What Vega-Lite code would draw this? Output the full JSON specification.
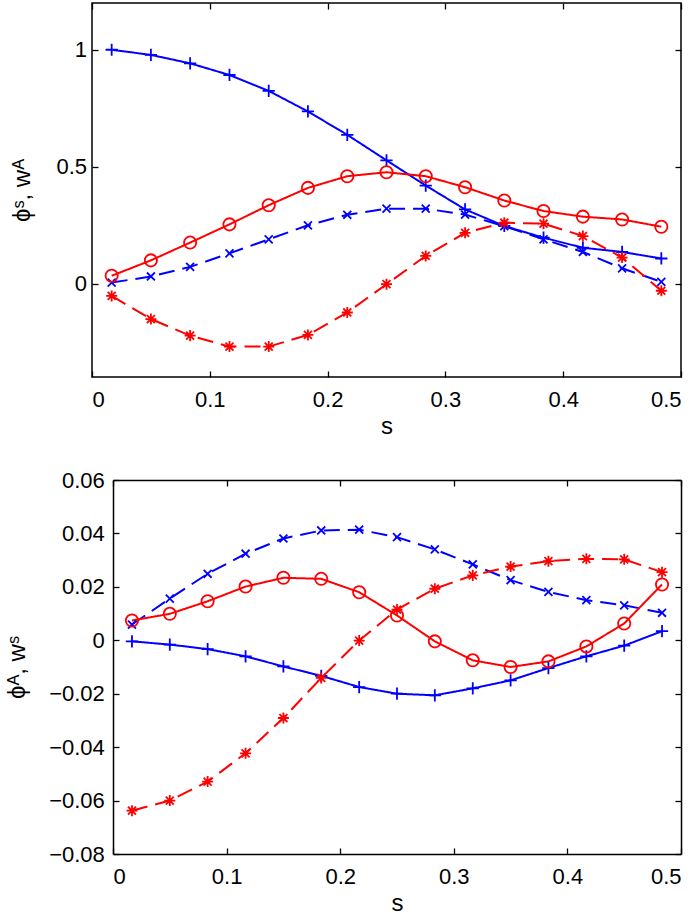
{
  "$schema": "https://vega.github.io/schema/vega-lite/v6.json",
  "padding": {"left": 5, "top": 1, "right": 0, "bottom": 0},
  "config": {
    "view": {"stroke": "black", "strokeWidth": 1.5},
    "font": "Liberation Sans",
    "axis": {
      "grid": false, "domain": false, "domainColor": "black", "domainWidth": 1.5,
      "tickColor": "black", "tickSize": -6, "tickWidth": 1.3,
      "labelFontSize": 22, "labelColor": "black", "labelFont": "Liberation Sans",
      "titleFontSize": 24, "titleFontWeight": "normal", "titleColor": "black", "titleFont": "Liberation Sans"
    }
  },
  "datasets": {
    "upper": [
      {"s": 0.0167, "k": "A", "v": 1.0}, {"s": 0.05, "k": "A", "v": 0.978}, {"s": 0.0833, "k": "A", "v": 0.942},
      {"s": 0.1167, "k": "A", "v": 0.892}, {"s": 0.15, "k": "A", "v": 0.824}, {"s": 0.1833, "k": "A", "v": 0.736},
      {"s": 0.2167, "k": "A", "v": 0.636}, {"s": 0.25, "k": "A", "v": 0.527}, {"s": 0.2833, "k": "A", "v": 0.419},
      {"s": 0.3167, "k": "A", "v": 0.317}, {"s": 0.35, "k": "A", "v": 0.246}, {"s": 0.3833, "k": "A", "v": 0.196},
      {"s": 0.4167, "k": "A", "v": 0.153}, {"s": 0.45, "k": "A", "v": 0.135}, {"s": 0.4833, "k": "A", "v": 0.107},
      {"s": 0.0167, "k": "B", "v": 0.004}, {"s": 0.05, "k": "B", "v": 0.03}, {"s": 0.0833, "k": "B", "v": 0.071},
      {"s": 0.1167, "k": "B", "v": 0.129}, {"s": 0.15, "k": "B", "v": 0.189}, {"s": 0.1833, "k": "B", "v": 0.249},
      {"s": 0.2167, "k": "B", "v": 0.294}, {"s": 0.25, "k": "B", "v": 0.32}, {"s": 0.2833, "k": "B", "v": 0.32},
      {"s": 0.3167, "k": "B", "v": 0.295}, {"s": 0.35, "k": "B", "v": 0.245}, {"s": 0.3833, "k": "B", "v": 0.189},
      {"s": 0.4167, "k": "B", "v": 0.135}, {"s": 0.45, "k": "B", "v": 0.065}, {"s": 0.4833, "k": "B", "v": 0.007},
      {"s": 0.0167, "k": "C", "v": 0.033}, {"s": 0.05, "k": "C", "v": 0.099}, {"s": 0.0833, "k": "C", "v": 0.175},
      {"s": 0.1167, "k": "C", "v": 0.253}, {"s": 0.15, "k": "C", "v": 0.335}, {"s": 0.1833, "k": "C", "v": 0.409},
      {"s": 0.2167, "k": "C", "v": 0.459}, {"s": 0.25, "k": "C", "v": 0.476}, {"s": 0.2833, "k": "C", "v": 0.459},
      {"s": 0.3167, "k": "C", "v": 0.412}, {"s": 0.35, "k": "C", "v": 0.355}, {"s": 0.3833, "k": "C", "v": 0.31},
      {"s": 0.4167, "k": "C", "v": 0.286}, {"s": 0.45, "k": "C", "v": 0.274}, {"s": 0.4833, "k": "C", "v": 0.243},
      {"s": 0.0167, "k": "D", "v": -0.053}, {"s": 0.05, "k": "D", "v": -0.152}, {"s": 0.0833, "k": "D", "v": -0.223},
      {"s": 0.1167, "k": "D", "v": -0.27}, {"s": 0.15, "k": "D", "v": -0.27}, {"s": 0.1833, "k": "D", "v": -0.22},
      {"s": 0.2167, "k": "D", "v": -0.124}, {"s": 0.25, "k": "D", "v": -0.003}, {"s": 0.2833, "k": "D", "v": 0.118},
      {"s": 0.3167, "k": "D", "v": 0.217}, {"s": 0.35, "k": "D", "v": 0.26}, {"s": 0.3833, "k": "D", "v": 0.256},
      {"s": 0.4167, "k": "D", "v": 0.203}, {"s": 0.45, "k": "D", "v": 0.111}, {"s": 0.4833, "k": "D", "v": -0.031}
    ],
    "lower": [
      {"s": 0.0167, "k": "A", "v": -0.0004}, {"s": 0.05, "k": "A", "v": -0.0016}, {"s": 0.0833, "k": "A", "v": -0.0033},
      {"s": 0.1167, "k": "A", "v": -0.006}, {"s": 0.15, "k": "A", "v": -0.0098}, {"s": 0.1833, "k": "A", "v": -0.0133},
      {"s": 0.2167, "k": "A", "v": -0.0175}, {"s": 0.25, "k": "A", "v": -0.02}, {"s": 0.2833, "k": "A", "v": -0.0206},
      {"s": 0.3167, "k": "A", "v": -0.018}, {"s": 0.35, "k": "A", "v": -0.015}, {"s": 0.3833, "k": "A", "v": -0.0104},
      {"s": 0.4167, "k": "A", "v": -0.006}, {"s": 0.45, "k": "A", "v": -0.002}, {"s": 0.4833, "k": "A", "v": 0.0034},
      {"s": 0.0167, "k": "B", "v": 0.0059}, {"s": 0.05, "k": "B", "v": 0.0156}, {"s": 0.0833, "k": "B", "v": 0.0249},
      {"s": 0.1167, "k": "B", "v": 0.0324}, {"s": 0.15, "k": "B", "v": 0.0381}, {"s": 0.1833, "k": "B", "v": 0.0411},
      {"s": 0.2167, "k": "B", "v": 0.0414}, {"s": 0.25, "k": "B", "v": 0.0386}, {"s": 0.2833, "k": "B", "v": 0.034},
      {"s": 0.3167, "k": "B", "v": 0.0284}, {"s": 0.35, "k": "B", "v": 0.0225}, {"s": 0.3833, "k": "B", "v": 0.0181},
      {"s": 0.4167, "k": "B", "v": 0.015}, {"s": 0.45, "k": "B", "v": 0.0131}, {"s": 0.4833, "k": "B", "v": 0.0103},
      {"s": 0.0167, "k": "C", "v": 0.0074}, {"s": 0.05, "k": "C", "v": 0.0099}, {"s": 0.0833, "k": "C", "v": 0.0146},
      {"s": 0.1167, "k": "C", "v": 0.0201}, {"s": 0.15, "k": "C", "v": 0.0234}, {"s": 0.1833, "k": "C", "v": 0.023},
      {"s": 0.2167, "k": "C", "v": 0.018}, {"s": 0.25, "k": "C", "v": 0.0093}, {"s": 0.2833, "k": "C", "v": -0.0004},
      {"s": 0.3167, "k": "C", "v": -0.0075}, {"s": 0.35, "k": "C", "v": -0.01}, {"s": 0.3833, "k": "C", "v": -0.0079},
      {"s": 0.4167, "k": "C", "v": -0.0023}, {"s": 0.45, "k": "C", "v": 0.0063}, {"s": 0.4833, "k": "C", "v": 0.0209},
      {"s": 0.0167, "k": "D", "v": -0.0638}, {"s": 0.05, "k": "D", "v": -0.06}, {"s": 0.0833, "k": "D", "v": -0.0529},
      {"s": 0.1167, "k": "D", "v": -0.0423}, {"s": 0.15, "k": "D", "v": -0.0291}, {"s": 0.1833, "k": "D", "v": -0.0141},
      {"s": 0.2167, "k": "D", "v": -0.0001}, {"s": 0.25, "k": "D", "v": 0.0115}, {"s": 0.2833, "k": "D", "v": 0.0193},
      {"s": 0.3167, "k": "D", "v": 0.0243}, {"s": 0.35, "k": "D", "v": 0.0276}, {"s": 0.3833, "k": "D", "v": 0.0296},
      {"s": 0.4167, "k": "D", "v": 0.0305}, {"s": 0.45, "k": "D", "v": 0.0303}, {"s": 0.4833, "k": "D", "v": 0.0255}
    ]
  },
  "spacing": 30,
  "vconcat": [
    {
      "width": 589, "height": 374,
      "data": {"name": "upper"},
      "resolve": {"axis": {"x": "independent", "y": "independent"}},
      "layer": [
        {
          "mark": {"type": "line", "strokeWidth": 2},
          "encoding": {
            "x": {"field": "s", "type": "quantitative", "scale": {"domain": [0, 0.5], "nice": false},
                  "axis": {"values": [0, 0.1, 0.2, 0.3, 0.4, 0.5], "format": ".1~f", "title": "s", "labelPadding": 18, "titlePadding": 4}},
            "y": {"field": "v", "type": "quantitative", "scale": {"domain": [-0.4, 1.2], "nice": false, "zero": false},
                  "axis": {"values": [0, 0.5, 1], "format": ".1~f", "title": "ϕˢ, wᴬ", "labelPadding": 11.5, "titlePadding": 21}},
            "detail": {"field": "k"},
            "color": {"field": "k", "type": "nominal", "scale": {"domain": ["A", "B", "C", "D"], "range": ["#0000ff", "#0000ff", "#ff0000", "#ff0000"]}, "legend": null},
            "strokeDash": {"field": "k", "type": "nominal", "scale": {"domain": ["A", "B", "C", "D"], "range": [[1, 0], [16, 8], [1, 0], [16, 8]]}, "legend": null}
          }
        },
        {
          "mark": {"type": "point", "filled": false, "strokeWidth": 1.8, "size": 150, "opacity": 1},
          "encoding": {
            "x": {"field": "s", "type": "quantitative", "scale": {"domain": [0, 0.5], "nice": false},
                  "axis": {"orient": "top", "labels": false, "title": null, "values": [0, 0.1, 0.2, 0.3, 0.4, 0.5]}},
            "y": {"field": "v", "type": "quantitative", "scale": {"domain": [-0.4, 1.2], "nice": false, "zero": false},
                  "axis": {"orient": "right", "labels": false, "title": null, "values": [0, 0.5, 1]}},
            "color": {"field": "k", "type": "nominal", "scale": {"domain": ["A", "B", "C", "D"], "range": ["#0000ff", "#0000ff", "#ff0000", "#ff0000"]}, "legend": null},
            "shape": {"field": "k", "type": "nominal", "scale": {"domain": ["A", "B", "C", "D"], "range": ["M-1,0H1M0,-1V1", "M-0.65,-0.65L0.65,0.65M-0.65,0.65L0.65,-0.65", "circle", "M-0.9,0H0.9M0,-0.9V0.9M-0.65,-0.65L0.65,0.65M-0.65,0.65L0.65,-0.65"]}, "legend": null}
          }
        }
      ]
    },
    {
      "width": 589, "height": 374,
      "view": {"stroke": null},
      "data": {"name": "lower"},
      "resolve": {"axis": {"x": "independent", "y": "independent"}},
      "layer": [
        {
          "mark": {"type": "line", "strokeWidth": 2},
          "encoding": {
            "x": {"field": "s", "type": "quantitative", "scale": {"domain": [0, 0.5], "nice": false, "range": [21, 589]},
                  "axis": {"values": [0, 0.1, 0.2, 0.3, 0.4, 0.5], "format": ".1~f", "title": "s", "domain": true, "labelPadding": 18, "titlePadding": 4}},
            "y": {"field": "v", "type": "quantitative", "scale": {"domain": [-0.08, 0.06], "nice": false, "zero": false},
                  "axis": {"values": [-0.08, -0.06, -0.04, -0.02, 0, 0.02, 0.04, 0.06], "format": ".2~f", "title": "ϕᴬ, wˢ", "domain": true, "offset": -21, "labelPadding": 14.7, "titlePadding": 19}},
            "detail": {"field": "k"},
            "color": {"field": "k", "type": "nominal", "scale": {"domain": ["A", "B", "C", "D"], "range": ["#0000ff", "#0000ff", "#ff0000", "#ff0000"]}, "legend": null},
            "strokeDash": {"field": "k", "type": "nominal", "scale": {"domain": ["A", "B", "C", "D"], "range": [[1, 0], [16, 8], [1, 0], [16, 8]]}, "legend": null}
          }
        },
        {
          "mark": {"type": "point", "filled": false, "strokeWidth": 1.8, "size": 150, "opacity": 1},
          "encoding": {
            "x": {"field": "s", "type": "quantitative", "scale": {"domain": [0, 0.5], "nice": false, "range": [21, 589]},
                  "axis": {"orient": "top", "labels": false, "title": null, "domain": true, "values": [0, 0.1, 0.2, 0.3, 0.4, 0.5]}},
            "y": {"field": "v", "type": "quantitative", "scale": {"domain": [-0.08, 0.06], "nice": false, "zero": false},
                  "axis": {"orient": "right", "labels": false, "title": null, "domain": true, "values": [-0.08, -0.06, -0.04, -0.02, 0, 0.02, 0.04, 0.06]}},
            "color": {"field": "k", "type": "nominal", "scale": {"domain": ["A", "B", "C", "D"], "range": ["#0000ff", "#0000ff", "#ff0000", "#ff0000"]}, "legend": null},
            "shape": {"field": "k", "type": "nominal", "scale": {"domain": ["A", "B", "C", "D"], "range": ["M-1,0H1M0,-1V1", "M-0.65,-0.65L0.65,0.65M-0.65,0.65L0.65,-0.65", "circle", "M-0.9,0H0.9M0,-0.9V0.9M-0.65,-0.65L0.65,0.65M-0.65,0.65L0.65,-0.65"]}, "legend": null}
          }
        }
      ]
    }
  ]
}
